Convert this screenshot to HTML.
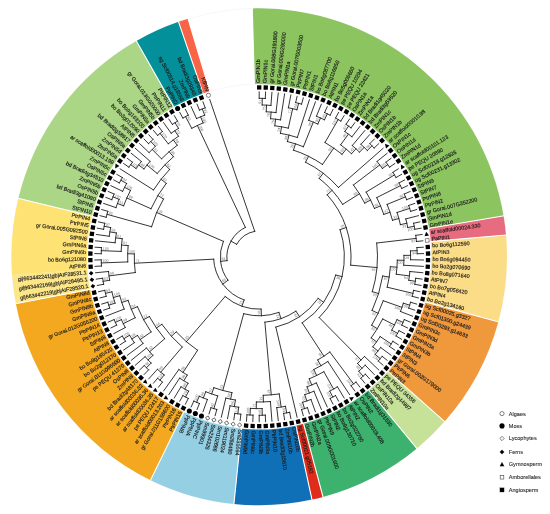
<!DOCTYPE html>
<html><head><meta charset="utf-8"><title>PIN phylogeny</title>
<style>html,body{margin:0;padding:0;background:#fff}svg{display:block}</style>
</head><body>
<svg width="550" height="514" viewBox="0 0 550 514">
<rect width="550" height="514" fill="#fff"/>
<ellipse cx="259.2" cy="256.8" rx="247.75" ry="248.5" fill="none" stroke="#f1f1f1" stroke-width="0.6"/>
<ellipse cx="259.2" cy="256.8" rx="172.28" ry="172.8" fill="none" stroke="#f1f1f1" stroke-width="0.6"/>
<g>
<path d="M254.39 84.07L252.28 8.40A247.75 248.5 0 0 1 503.58 215.91L429.13 228.37A172.28 172.8 0 0 0 254.39 84.07Z" fill="#8CC460"/>
<path d="M429.13 228.37L503.58 215.91A247.75 248.5 0 0 1 506.00 234.97L430.82 241.62A172.28 172.8 0 0 0 429.13 228.37Z" fill="#E86C80"/>
<path d="M430.82 241.62L506.00 234.97A247.75 248.5 0 0 1 498.33 321.79L425.49 301.99A172.28 172.8 0 0 0 430.82 241.62Z" fill="#FBDC87"/>
<path d="M425.49 301.99L498.33 321.79A247.75 248.5 0 0 1 444.61 421.62L388.13 371.41A172.28 172.8 0 0 0 425.49 301.99Z" fill="#F0983C"/>
<path d="M388.13 371.41L444.61 421.62A247.75 248.5 0 0 1 416.86 448.49L368.83 390.10A172.28 172.8 0 0 0 388.13 371.41Z" fill="#C6E298"/>
<path d="M368.83 390.10L416.86 448.49A247.75 248.5 0 0 1 322.99 496.92L303.56 423.77A172.28 172.8 0 0 0 368.83 390.10Z" fill="#3DB26E"/>
<path d="M303.56 423.77L322.99 496.92A247.75 248.5 0 0 1 311.98 499.60L295.90 425.63A172.28 172.8 0 0 0 303.56 423.77Z" fill="#E02D1B"/>
<path d="M295.90 425.63L311.98 499.60A247.75 248.5 0 0 1 233.90 504.00L241.61 428.70A172.28 172.8 0 0 0 295.90 425.63Z" fill="#0F70B7"/>
<path d="M241.61 428.70L233.90 504.00A247.75 248.5 0 0 1 150.59 480.15L183.68 412.11A172.28 172.8 0 0 0 241.61 428.70Z" fill="#94CFE3"/>
<path d="M183.68 412.11L150.59 480.15A247.75 248.5 0 0 1 15.90 303.71L90.02 289.42A172.28 172.8 0 0 0 183.68 412.11Z" fill="#F3A81F"/>
<path d="M90.02 289.42L15.90 303.71A247.75 248.5 0 0 1 12.11 275.00L87.38 269.46A172.28 172.8 0 0 0 90.02 289.42Z" fill="#FCE688"/>
<path d="M87.38 269.46L12.11 275.00A247.75 248.5 0 0 1 18.40 198.33L91.76 216.14A172.28 172.8 0 0 0 87.38 269.46Z" fill="#FEE274"/>
<path d="M91.76 216.14L18.40 198.33A247.75 248.5 0 0 1 136.34 41.01L173.76 106.75A172.28 172.8 0 0 0 91.76 216.14Z" fill="#ABD685"/>
<path d="M173.76 106.75L136.34 41.01A247.75 248.5 0 0 1 178.54 21.84L203.11 93.41A172.28 172.8 0 0 0 173.76 106.75Z" fill="#04909A"/>
<path d="M203.11 93.41L178.54 21.84A247.75 248.5 0 0 1 188.13 18.74L209.78 91.26A172.28 172.8 0 0 0 203.11 93.41Z" fill="#FA6446"/>
<path d="M254.40 84.57L252.27 7.90M428.64 228.45L504.07 215.83M430.32 241.66L506.49 234.93M425.00 301.86L498.81 321.92M387.76 371.08L444.99 421.96M368.51 389.71L417.18 448.88M303.43 423.29L323.12 497.41M295.80 425.14L312.09 500.08M241.66 428.20L233.85 504.50M183.90 411.66L150.37 480.60M90.50 289.32L15.41 303.80M92.24 216.26L17.92 198.21M174.01 107.18L136.09 40.58M203.27 93.89L178.38 21.37M209.92 91.74L187.99 18.26" stroke="#fff" stroke-width="1.1" fill="none"/>
</g>
<path d="M259.20 98.33A157.99 158.47 0 0 1 265.33 98.45M259.20 98.33L259.20 91.90M265.33 98.45L265.57 92.02M262.14 104.99A151.38 151.84 0 0 1 270.93 105.42M262.14 104.99L262.26 98.36M270.93 105.42L271.94 92.40M266.22 111.76A144.77 145.21 0 0 1 276.01 112.57M266.22 111.76L266.54 105.14M276.01 112.57L278.29 93.01M270.57 118.69A138.16 138.58 0 0 1 280.55 119.88M270.57 118.69L271.12 112.08M280.55 119.88L284.60 93.88M295.64 102.60A157.99 158.47 0 0 1 301.57 104.13M295.64 102.60L297.11 96.34M301.57 104.13L303.29 97.94M288.37 107.81A151.38 151.84 0 0 1 296.96 109.76M288.37 107.81L290.88 94.99M296.96 109.76L298.61 103.34M274.79 125.78A131.55 131.95 0 0 1 288.30 128.12M274.79 125.78L275.57 119.20M288.30 128.12L292.68 108.72M280.45 133.31A124.94 125.32 0 0 1 297.35 137.46M280.45 133.31L281.57 126.77M297.35 137.46L309.40 99.77M324.58 112.53A157.99 158.47 0 0 1 330.11 115.19M324.58 112.53L327.23 106.68M330.11 115.19L332.98 109.44M316.45 116.24A151.38 151.84 0 0 1 324.51 119.81M316.45 116.24L321.38 104.15M324.51 119.81L327.36 113.83M308.72 120.35A144.77 145.21 0 0 1 317.83 124.03M308.72 120.35L315.43 101.84M317.83 124.03L320.51 117.97M287.40 141.53A118.33 118.69 0 0 1 303.42 146.71M287.40 141.53L288.97 135.09M303.42 146.71L313.30 122.11M335.53 118.05A157.99 158.47 0 0 1 340.84 121.12M335.53 118.05L338.63 112.42M340.84 121.12L344.15 115.62M346.02 124.40A157.99 158.47 0 0 1 351.07 127.88M346.02 124.40L349.54 119.03M351.07 127.88L354.80 122.65M344.82 131.58A151.38 151.84 0 0 1 351.94 136.79M344.82 131.58L348.56 126.11M351.94 136.79L359.91 126.46M369.83 143.66A157.99 158.47 0 0 1 374.12 148.05M369.83 143.66L374.32 139.07M374.12 148.05L378.78 143.64M360.93 144.36A151.38 151.84 0 0 1 367.28 150.48M360.93 144.36L369.68 134.68M367.28 150.48L372.00 145.84M352.26 145.56A144.77 145.21 0 0 1 359.57 152.15M352.26 145.56L364.88 130.48M359.57 152.15L364.15 147.37M340.63 144.84A138.16 138.58 0 0 1 351.55 153.73M340.63 144.84L348.42 134.13M351.55 153.73L355.97 148.79M324.98 142.53A131.55 131.95 0 0 1 342.04 154.30M324.98 142.53L338.20 119.56M342.04 154.30L346.20 149.15M293.47 150.14A111.72 112.06 0 0 1 322.50 164.46M293.47 150.14L295.50 143.83M322.50 164.46L333.74 148.07M305.59 162.19A105.11 105.43 0 0 1 338.40 187.48M305.59 162.19L308.51 156.24M338.40 187.48L383.07 148.37M385.93 162.17A157.99 158.47 0 0 1 389.49 167.17M385.93 162.17L391.07 158.33M389.49 167.17L394.78 163.53M377.03 161.47A151.38 151.84 0 0 1 382.36 168.51M377.03 161.47L387.17 153.27M382.36 168.51L387.74 164.65M392.86 172.30A157.99 158.47 0 0 1 396.03 177.56M392.86 172.30L398.28 168.87M396.03 177.56L401.58 174.35M398.99 182.95A157.99 158.47 0 0 1 401.74 188.44M398.99 182.95L404.66 179.95M401.74 188.44L407.52 185.66M404.27 194.03A157.99 158.47 0 0 1 406.59 199.72M404.27 194.03L410.16 191.49M406.59 199.72L412.57 197.41M408.69 205.50A157.99 158.47 0 0 1 410.56 211.35M408.69 205.50L414.75 203.42M410.56 211.35L416.70 209.51M413.61 223.25A157.99 158.47 0 0 1 414.79 229.28M413.61 223.25L419.88 221.89M414.79 229.28L421.11 228.17M405.80 218.92A151.38 151.84 0 0 1 407.75 227.54M405.80 218.92L418.41 215.67M407.75 227.54L414.23 226.26M397.06 212.46A144.77 145.21 0 0 1 400.39 224.68M397.06 212.46L409.65 208.41M400.39 224.68L406.84 223.22M387.10 204.39A138.16 138.58 0 0 1 392.48 220.28M387.10 204.39L405.46 196.87M392.48 220.28L398.86 218.54M376.76 197.58A131.55 131.95 0 0 1 383.77 214.39M376.76 197.58L400.39 185.68M383.77 214.39L390.03 212.25M366.17 192.05A124.94 125.32 0 0 1 374.46 208.42M366.17 192.05L394.47 174.92M374.46 208.42L380.56 205.86M353.43 185.00A118.33 118.69 0 0 1 364.72 203.08M353.43 185.00L379.75 164.95M364.72 203.08L370.62 200.08M319.22 178.46A98.50 98.80 0 0 1 342.68 204.35M319.22 178.46L323.25 173.20M342.68 204.35L359.48 193.79M415.74 235.35A157.99 158.47 0 0 1 416.45 241.46M415.74 235.35L422.09 234.48M416.45 241.46L422.83 240.84M416.93 247.59A157.99 158.47 0 0 1 417.16 253.73M416.93 247.59L423.33 247.21M417.16 253.73L423.57 253.60M410.47 250.91A151.38 151.84 0 0 1 410.56 259.74M410.47 250.91L417.08 250.66M410.56 259.74L423.57 260.00M403.97 255.39A144.77 145.21 0 0 1 403.73 265.24M403.97 255.39L410.58 255.33M403.73 265.24L423.33 266.39M415.74 278.25A157.99 158.47 0 0 1 414.79 284.32M415.74 278.25L422.09 279.12M414.79 284.32L421.11 285.43M409.87 271.50A151.38 151.84 0 0 1 408.77 280.26M409.87 271.50L422.83 272.76M408.77 280.26L415.30 281.29M397.32 260.16A138.16 138.58 0 0 1 396.27 274.22M397.32 260.16L403.93 260.32M396.27 274.22L409.38 275.89M413.61 290.35A157.99 158.47 0 0 1 412.20 296.33M413.61 290.35L419.88 291.71M412.20 296.33L418.41 297.93M390.38 266.71A131.55 131.95 0 0 1 387.21 287.23M390.38 266.71L396.97 267.20M387.21 287.23L412.94 293.35M410.56 302.25A157.99 158.47 0 0 1 408.69 308.10M410.56 302.25L416.70 304.09M408.69 308.10L414.75 310.18M403.36 303.16A151.38 151.84 0 0 1 400.42 311.49M403.36 303.16L409.65 305.19M400.42 311.49L412.57 316.19M404.27 319.57A157.99 158.47 0 0 1 401.74 325.16M404.27 319.57L410.16 322.11M401.74 325.16L407.52 327.94M398.99 330.65A157.99 158.47 0 0 1 396.03 336.03M398.99 330.65L404.66 333.65M396.03 336.03L401.58 339.25M397.01 319.63A151.38 151.84 0 0 1 391.75 330.16M397.01 319.63L403.03 322.38M391.75 330.16L397.53 333.36M392.86 341.30A157.99 158.47 0 0 1 389.49 346.43M392.86 341.30L398.28 344.73M389.49 346.43L394.78 350.07M382.18 356.29A157.99 158.47 0 0 1 378.24 361.00M382.18 356.29L387.17 360.33M378.24 361.00L383.07 365.23M380.63 347.47A151.38 151.84 0 0 1 375.17 354.40M380.63 347.47L391.07 355.27M375.17 354.40L380.23 358.66M380.16 336.59A144.77 145.21 0 0 1 372.76 346.86M380.16 336.59L391.20 343.88M372.76 346.86L377.95 350.98M382.67 318.99A138.16 138.58 0 0 1 371.21 337.93M382.67 318.99L394.48 324.95M371.21 337.93L376.57 341.81M383.25 300.73A131.55 131.95 0 0 1 371.67 325.25M383.25 300.73L401.95 307.35M371.67 325.25L377.32 328.69M382.67 276.01A124.94 125.32 0 0 1 372.12 310.45M382.67 276.01L389.20 277.03M372.12 310.45L378.09 313.29M376.73 243.02A118.33 118.69 0 0 1 372.31 291.67M376.73 243.02L416.13 238.40M372.31 291.67L378.63 293.61M327.21 194.81A91.89 92.17 0 0 1 350.71 265.17M327.21 194.81L332.10 190.35M350.71 265.17L377.05 267.57M365.37 374.15A157.99 158.47 0 0 1 360.76 378.20M365.37 374.15L369.68 378.92M360.76 378.20L364.88 383.12M365.20 365.20A151.38 151.84 0 0 1 358.74 371.20M365.20 365.20L374.32 374.53M358.74 371.20L363.08 376.20M364.51 356.45A144.77 145.21 0 0 1 357.52 363.38M364.51 356.45L378.78 369.96M357.52 363.38L362.01 368.25M340.06 229.62A85.28 85.54 0 0 1 319.21 317.58M340.06 229.62L346.33 227.51M319.21 317.58L361.07 359.98M355.99 382.05A157.99 158.47 0 0 1 351.07 385.72M355.99 382.05L359.91 387.14M351.07 385.72L354.80 390.95M335.53 395.55A157.99 158.47 0 0 1 330.11 398.41M335.53 395.55L338.63 401.18M330.11 398.41L332.98 404.16M337.42 386.80A151.38 151.84 0 0 1 329.75 391.14M337.42 386.80L344.15 397.98M329.75 391.14L332.83 397.01M307.44 407.70A157.99 158.47 0 0 1 301.57 409.47M307.44 407.70L309.40 413.83M301.57 409.47L303.29 415.66M310.98 399.48A151.38 151.84 0 0 1 302.62 402.26M310.98 399.48L315.43 411.76M302.62 402.26L304.51 408.61M313.95 391.22A144.77 145.21 0 0 1 304.74 394.64M313.95 391.22L321.38 409.45M304.74 394.64L306.82 400.93M316.37 382.96A138.16 138.58 0 0 1 307.08 386.79M316.37 382.96L327.23 406.92M307.08 386.79L309.37 393.01M323.87 371.71A131.55 131.95 0 0 1 309.25 378.83M323.87 371.71L333.62 389.03M309.25 378.83L311.76 384.96M327.86 361.50A124.94 125.32 0 0 1 313.78 369.53M327.86 361.50L349.54 394.57M313.78 369.53L316.67 375.49M329.86 352.00A118.33 118.69 0 0 1 317.68 359.98M329.86 352.00L353.55 383.91M317.68 359.98L320.95 365.75M335.74 275.05A78.67 78.91 0 0 1 302.21 322.87M335.74 275.05L342.17 276.59M302.21 322.87L323.90 356.18M318.15 298.38A72.06 72.28 0 0 1 275.82 327.13M318.15 298.38L323.55 302.19M275.82 327.13L297.11 417.26M289.65 412.30A157.99 158.47 0 0 1 283.61 413.37M289.65 412.30L290.88 418.61M283.61 413.37L284.60 419.72M285.49 406.33A151.38 151.84 0 0 1 276.77 407.61M285.49 406.33L286.64 412.86M276.77 407.61L278.29 420.59M265.33 415.15A157.99 158.47 0 0 1 259.20 415.27M265.33 415.15L265.57 421.58M259.20 415.27L259.20 421.70M253.07 415.15A157.99 158.47 0 0 1 246.96 414.79M253.07 415.15L252.83 421.58M246.96 414.79L246.46 421.20M262.14 408.61A151.38 151.84 0 0 1 250.40 408.38M262.14 408.61L262.26 415.24M250.40 408.38L250.01 415.00M270.42 401.57A144.77 145.21 0 0 1 256.39 401.98M270.42 401.57L271.94 421.20M256.39 401.98L256.26 408.61M279.22 393.92A138.16 138.58 0 0 1 263.22 395.32M279.22 393.92L281.14 407.04M263.22 395.32L263.41 401.95M295.90 311.16A65.45 65.65 0 0 1 264.90 322.20M295.90 311.16L299.61 316.65M264.90 322.20L271.24 394.85M240.86 414.20A157.99 158.47 0 0 1 234.79 413.37M240.86 414.20L240.11 420.59M234.79 413.37L233.80 419.72M238.71 407.24A151.38 151.84 0 0 1 230.03 405.79M238.71 407.24L237.82 413.81M230.03 405.79L227.52 418.61M235.44 400.04A144.77 145.21 0 0 1 225.81 398.10M235.44 400.04L234.36 406.58M225.81 398.10L221.29 417.26M216.83 409.47A157.99 158.47 0 0 1 210.96 407.70M216.83 409.47L215.11 415.66M210.96 407.70L209.00 413.83M199.45 403.50A157.99 158.47 0 0 1 193.82 401.07M199.45 403.50L197.02 409.45M193.82 401.07L191.17 406.92M207.42 399.48A151.38 151.84 0 0 1 199.24 396.22M207.42 399.48L202.97 411.76M199.24 396.22L196.62 402.31M217.68 395.91A144.77 145.21 0 0 1 205.75 391.75M217.68 395.91L213.89 408.61M205.75 391.75L203.31 397.91M231.92 392.65A138.16 138.58 0 0 1 213.84 387.70M231.92 392.65L230.61 399.15M213.84 387.70L211.67 393.96M278.89 312.42A58.84 59.02 0 0 1 243.69 313.73M278.89 312.42L281.11 318.66M243.69 313.73L222.79 390.48M188.29 398.41A157.99 158.47 0 0 1 182.87 395.55M188.29 398.41L185.42 404.16M182.87 395.55L179.77 401.18M188.65 391.14A151.38 151.84 0 0 1 180.98 386.80M188.65 391.14L185.57 397.01M180.98 386.80L174.25 397.98M188.03 383.25A144.77 145.21 0 0 1 179.65 378.12M188.03 383.25L184.78 389.03M179.65 378.12L168.86 394.57M187.24 375.10A138.16 138.58 0 0 1 178.86 369.54M187.24 375.10L183.80 380.76M178.86 369.54L163.60 390.95M162.41 382.05A157.99 158.47 0 0 1 157.64 378.20M162.41 382.05L158.49 387.14M157.64 378.20L153.52 383.12M164.16 374.99A151.38 151.84 0 0 1 157.47 369.24M164.16 374.99L160.01 380.15M157.47 369.24L148.72 378.92M148.57 369.94A157.99 158.47 0 0 1 144.28 365.55M148.57 369.94L144.08 374.53M144.28 365.55L139.62 369.96M151.12 363.12A151.38 151.84 0 0 1 145.14 356.64M151.12 363.12L146.40 367.76M145.14 356.64L135.33 365.23M152.94 355.42A144.77 145.21 0 0 1 146.51 347.96M152.94 355.42L148.08 359.92M146.51 347.96L131.23 360.33M125.54 341.30A157.99 158.47 0 0 1 122.37 336.04M125.54 341.30L120.12 344.73M122.37 336.04L116.82 339.25M134.36 342.68A151.38 151.84 0 0 1 129.59 335.26M134.36 342.68L123.62 350.07M129.59 335.26L123.93 338.68M143.07 343.51A144.77 145.21 0 0 1 137.48 335.41M143.07 343.51L127.33 355.27M137.48 335.41L131.92 339.00M116.66 325.16A157.99 158.47 0 0 1 114.13 319.57M116.66 325.16L110.88 327.94M114.13 319.57L108.24 322.11M125.26 327.56A151.38 151.84 0 0 1 121.39 319.63M125.26 327.56L113.74 333.65M121.39 319.63L115.37 322.38M109.71 308.10A157.99 158.47 0 0 1 107.84 302.25M109.71 308.10L103.65 310.18M107.84 302.25L101.70 304.09M106.20 296.33A157.99 158.47 0 0 1 104.79 290.35M106.20 296.33L99.99 297.93M104.79 290.35L98.52 291.71M115.04 303.16A151.38 151.84 0 0 1 111.90 291.82M115.04 303.16L108.75 305.19M111.90 291.82L105.46 293.35M124.14 309.10A144.77 145.21 0 0 1 119.73 295.74M124.14 309.10L105.83 316.19M119.73 295.74L113.36 297.52M135.14 317.79A138.16 138.58 0 0 1 128.05 300.39M135.14 317.79L123.27 323.63M128.05 300.39L121.77 302.48M151.07 331.96A131.55 131.95 0 0 1 137.42 306.70M151.07 331.96L140.21 339.51M137.42 306.70L131.30 309.21M164.67 338.74A124.94 125.32 0 0 1 149.37 316.54M164.67 338.74L149.66 351.75M149.37 316.54L143.56 319.70M182.26 346.98A118.33 118.69 0 0 1 161.86 324.29M182.26 346.98L160.77 372.16M161.86 324.29L156.42 328.06M197.58 350.28A111.72 112.06 0 0 1 176.24 331.85M197.58 350.28L183.00 372.40M176.24 331.85L171.33 336.29M261.15 309.15A52.23 52.39 0 0 1 225.13 296.51M261.15 309.15L261.40 315.78M225.13 296.51L186.33 341.74M103.61 284.32A157.99 158.47 0 0 1 102.66 278.25M103.61 284.32L97.29 285.43M102.66 278.25L96.31 279.12M109.63 280.26A151.38 151.84 0 0 1 108.53 271.50M109.63 280.26L103.10 281.29M108.53 271.50L95.57 272.76M101.47 266.01A157.99 158.47 0 0 1 101.24 259.87M101.47 266.01L95.07 266.39M101.24 259.87L94.83 260.00M101.24 253.73A157.99 158.47 0 0 1 101.47 247.59M101.24 253.73L94.83 253.60M101.47 247.59L95.07 247.21M103.61 229.28A157.99 158.47 0 0 1 104.79 223.25M103.61 229.28L97.29 228.17M104.79 223.25L98.52 221.89M109.21 236.25A151.38 151.84 0 0 1 110.65 227.54M109.21 236.25L96.31 234.48M110.65 227.54L104.17 226.26M115.11 242.74A144.77 145.21 0 0 1 116.39 232.97M115.11 242.74L95.57 240.84M116.39 232.97L109.87 231.88M121.14 251.43A138.16 138.58 0 0 1 122.22 238.71M121.14 251.43L101.32 250.66M122.22 238.71L115.66 237.85M127.74 261.92A131.55 131.95 0 0 1 128.12 245.62M127.74 261.92L101.32 262.94M128.12 245.62L121.53 245.06M135.25 272.55A124.94 125.32 0 0 1 134.29 253.91M135.25 272.55L109.02 275.89M134.29 253.91L127.68 253.76M244.13 299.99A45.62 45.76 0 0 1 213.64 259.16M244.13 299.99L241.95 306.25M213.64 259.16L134.42 263.25M106.20 217.27A157.99 158.47 0 0 1 107.84 211.35M106.20 217.27L99.99 215.67M107.84 211.35L101.70 209.51M111.81 199.72A157.99 158.47 0 0 1 114.13 194.03M111.81 199.72L105.83 197.41M114.13 194.03L108.24 191.49M115.97 207.64A151.38 151.84 0 0 1 119.06 199.37M115.97 207.64L103.65 203.42M119.06 199.37L112.94 196.87M119.41 182.95A157.99 158.47 0 0 1 122.37 177.56M119.41 182.95L113.74 179.95M122.37 177.56L116.82 174.35M122.63 191.30A151.38 151.84 0 0 1 126.65 183.44M122.63 191.30L110.88 185.66M126.65 183.44L120.87 180.24M123.64 205.81A144.77 145.21 0 0 1 130.46 190.37M123.64 205.81L117.45 203.49M130.46 190.37L124.58 187.34M128.91 167.17A157.99 158.47 0 0 1 132.47 162.17M128.91 167.17L123.62 163.53M132.47 162.17L127.33 158.33M136.04 168.51A151.38 151.84 0 0 1 141.37 161.47M136.04 168.51L130.66 164.65M141.37 161.47L131.23 153.27M143.92 168.96A144.77 145.21 0 0 1 150.12 161.32M143.92 168.96L138.65 164.95M150.12 161.32L135.33 148.37M148.57 143.66A157.99 158.47 0 0 1 153.03 139.45M148.57 143.66L144.08 139.07M153.03 139.45L148.72 134.68M149.09 152.60A151.38 151.84 0 0 1 155.31 146.36M149.09 152.60L139.62 143.64M155.31 146.36L150.78 141.53M157.64 135.40A157.99 158.47 0 0 1 162.41 131.55M157.64 135.40L153.52 130.48M162.41 131.55L158.49 126.46M172.38 124.40A157.99 158.47 0 0 1 177.56 121.12M172.38 124.40L168.86 119.03M177.56 121.12L174.25 115.62M171.17 133.27A151.38 151.84 0 0 1 178.48 128.35M171.17 133.27L163.60 122.65M178.48 128.35L174.96 122.74M168.31 143.77A144.77 145.21 0 0 1 178.48 136.26M168.31 143.77L160.01 133.45M178.48 136.26L174.79 130.75M161.50 158.81A138.16 138.58 0 0 1 177.23 145.24M161.50 158.81L152.16 149.43M177.23 145.24L173.31 139.90M157.20 173.46A131.55 131.95 0 0 1 173.42 156.76M157.20 173.46L146.95 165.09M173.42 156.76L169.11 151.73M153.50 189.98A124.94 125.32 0 0 1 169.68 169.37M153.50 189.98L120.12 168.87M169.68 169.37L164.95 164.75M151.00 208.73A118.33 118.69 0 0 1 166.24 183.35M151.00 208.73L126.83 198.00M166.24 183.35L161.05 179.25M151.57 226.75A111.72 112.06 0 0 1 163.49 198.99M151.57 226.75L106.99 214.30M163.49 198.99L157.83 195.57M227.97 280.26A39.01 39.13 0 0 1 223.37 241.32M227.97 280.26L222.68 284.23M223.37 241.32L156.59 212.46M182.87 118.05A157.99 158.47 0 0 1 188.29 115.19M182.87 118.05L179.77 112.42M188.29 115.19L185.42 109.44M199.45 110.10A157.99 158.47 0 0 1 205.16 107.89M199.45 110.10L197.02 104.15M205.16 107.89L202.97 101.84M196.56 118.57A151.38 151.84 0 0 1 204.67 115.15M196.56 118.57L191.17 106.68M204.67 115.15L202.29 108.97M191.73 128.32A144.77 145.21 0 0 1 203.15 122.91M191.73 128.32L185.57 116.59M203.15 122.91L200.59 116.80M227.02 260.63A32.40 32.50 0 0 1 245.36 227.41M227.02 260.63L220.46 261.41M245.36 227.41L197.38 125.49M236.64 244.27A25.79 25.87 0 0 1 254.72 231.32M236.64 244.27L230.85 241.05M254.72 231.32L209.76 99.53" fill="none" stroke="#111" stroke-width="0.85" stroke-linecap="square"/>
<g font-family="'Liberation Sans',Arial,sans-serif" font-size="3.6" fill="#6e6e6e">
<text x="259.94" y="99.61" transform="rotate(-88.89 259.94 99.61)" text-anchor="end" dy="0.35em">91</text>
<text x="264.18" y="106.33" transform="rotate(-87.22 264.18 106.33)" text-anchor="end" dy="0.35em">75</text>
<text x="268.72" y="113.19" transform="rotate(-85.28 268.72 113.19)" text-anchor="end" dy="0.35em">75</text>
<text x="273.13" y="120.21" transform="rotate(-83.19 273.13 120.21)" text-anchor="end" dy="0.35em">75</text>
<text x="296.06" y="104.02" transform="rotate(-75.56 296.06 104.02)" text-anchor="end" dy="0.35em">100</text>
<text x="290.15" y="109.48" transform="rotate(-77.22 290.15 109.48)" text-anchor="end" dy="0.35em">77</text>
<text x="279.09" y="127.66" transform="rotate(-80.21 279.09 127.66)" text-anchor="end" dy="0.35em">54</text>
<text x="286.43" y="135.80" transform="rotate(-76.22 286.43 135.80)" text-anchor="end" dy="0.35em">88</text>
<text x="324.72" y="114.01" transform="rotate(-64.44 324.72 114.01)" text-anchor="end" dy="0.35em">85</text>
<text x="317.88" y="118.22" transform="rotate(-66.11 317.88 118.22)" text-anchor="end" dy="0.35em">92</text>
<text x="310.68" y="122.46" transform="rotate(-68.06 310.68 122.46)" text-anchor="end" dy="0.35em">98</text>
<text x="292.91" y="144.36" transform="rotate(-72.14 292.91 144.36)" text-anchor="end" dy="0.35em">78</text>
<text x="335.56" y="119.54" transform="rotate(-60.00 335.56 119.54)" text-anchor="end" dy="0.35em">100</text>
<text x="345.93" y="125.88" transform="rotate(-55.56 345.93 125.88)" text-anchor="end" dy="0.35em">87</text>
<text x="345.79" y="133.83" transform="rotate(-53.89 345.79 133.83)" text-anchor="end" dy="0.35em">90</text>
<text x="369.46" y="145.10" transform="rotate(-44.44 369.46 145.10)" text-anchor="end" dy="0.35em">98</text>
<text x="361.59" y="146.71" transform="rotate(-46.11 361.59 146.71)" text-anchor="end" dy="0.35em">99</text>
<text x="353.39" y="148.22" transform="rotate(-48.06 353.39 148.22)" text-anchor="end" dy="0.35em">43</text>
<text x="343.60" y="148.71" transform="rotate(-50.97 343.60 148.71)" text-anchor="end" dy="0.35em">100</text>
<text x="331.11" y="147.84" transform="rotate(-55.49 331.11 147.84)" text-anchor="end" dy="0.35em">93</text>
<text x="305.87" y="156.40" transform="rotate(-63.81 305.87 156.40)" text-anchor="end" dy="0.35em">15</text>
<text x="320.63" y="172.83" transform="rotate(-52.46 320.63 172.83)" text-anchor="end" dy="0.35em">57</text>
<text x="385.34" y="163.54" transform="rotate(-35.56 385.34 163.54)" text-anchor="end" dy="0.35em">100</text>
<text x="377.32" y="163.91" transform="rotate(-37.22 377.32 163.91)" text-anchor="end" dy="0.35em">100</text>
<text x="392.17" y="173.62" transform="rotate(-31.11 392.17 173.62)" text-anchor="end" dy="0.35em">63</text>
<text x="398.20" y="184.21" transform="rotate(-26.67 398.20 184.21)" text-anchor="end" dy="0.35em">99</text>
<text x="403.39" y="195.23" transform="rotate(-22.22 403.39 195.23)" text-anchor="end" dy="0.35em">92</text>
<text x="407.71" y="206.62" transform="rotate(-17.78 407.71 206.62)" text-anchor="end" dy="0.35em">100</text>
<text x="413.40" y="228.77" transform="rotate(-11.11 413.40 228.77)" text-anchor="end" dy="0.35em">100</text>
<text x="406.08" y="225.75" transform="rotate(-12.78 406.08 225.75)" text-anchor="end" dy="0.35em">33</text>
<text x="397.00" y="216.66" transform="rotate(-15.28 397.00 216.66)" text-anchor="end" dy="0.35em">32</text>
<text x="388.06" y="210.49" transform="rotate(-18.75 388.06 210.49)" text-anchor="end" dy="0.35em">47</text>
<text x="378.47" y="204.24" transform="rotate(-22.71 378.47 204.24)" text-anchor="end" dy="0.35em">91</text>
<text x="368.42" y="198.62" transform="rotate(-26.91 368.42 198.62)" text-anchor="end" dy="0.35em">99</text>
<text x="357.16" y="192.53" transform="rotate(-32.07 357.16 192.53)" text-anchor="end" dy="0.35em">69</text>
<text x="329.59" y="189.53" transform="rotate(-42.26 329.59 189.53)" text-anchor="end" dy="0.35em">73</text>
<text x="415.10" y="240.84" transform="rotate(-6.67 415.10 240.84)" text-anchor="end" dy="0.35em">92</text>
<text x="415.87" y="253.00" transform="rotate(-2.22 415.87 253.00)" text-anchor="end" dy="0.35em">34</text>
<text x="409.30" y="257.64" transform="rotate(-0.56 409.30 257.64)" text-anchor="end" dy="0.35em">29</text>
<text x="402.58" y="262.59" transform="rotate(1.39 402.58 262.59)" text-anchor="end" dy="0.35em">100</text>
<text x="413.66" y="283.36" transform="rotate(8.89 413.66 283.36)" text-anchor="end" dy="0.35em">99</text>
<text x="407.80" y="278.01" transform="rotate(7.22 407.80 278.01)" text-anchor="end" dy="0.35em">94</text>
<text x="395.51" y="269.40" transform="rotate(4.31 395.51 269.40)" text-anchor="end" dy="0.35em">100</text>
<text x="411.14" y="295.28" transform="rotate(13.33 411.14 295.28)" text-anchor="end" dy="0.35em">100</text>
<text x="387.56" y="279.10" transform="rotate(8.82 387.56 279.10)" text-anchor="end" dy="0.35em">97</text>
<text x="407.71" y="306.98" transform="rotate(17.78 407.71 306.98)" text-anchor="end" dy="0.35em">100</text>
<text x="399.96" y="309.08" transform="rotate(19.44 399.96 309.08)" text-anchor="end" dy="0.35em">100</text>
<text x="400.90" y="323.93" transform="rotate(24.44 400.90 323.93)" text-anchor="end" dy="0.35em">100</text>
<text x="395.28" y="334.74" transform="rotate(28.89 395.28 334.74)" text-anchor="end" dy="0.35em">100</text>
<text x="392.29" y="326.42" transform="rotate(26.67 392.29 326.42)" text-anchor="end" dy="0.35em">46</text>
<text x="388.85" y="345.09" transform="rotate(33.33 388.85 345.09)" text-anchor="end" dy="0.35em">100</text>
<text x="377.76" y="359.59" transform="rotate(40.00 377.76 359.59)" text-anchor="end" dy="0.35em">100</text>
<text x="375.50" y="351.97" transform="rotate(38.33 375.50 351.97)" text-anchor="end" dy="0.35em">99</text>
<text x="374.17" y="342.91" transform="rotate(35.83 374.17 342.91)" text-anchor="end" dy="0.35em">72</text>
<text x="375.01" y="329.98" transform="rotate(31.25 375.01 329.98)" text-anchor="end" dy="0.35em">82</text>
<text x="375.93" y="314.81" transform="rotate(25.35 375.93 314.81)" text-anchor="end" dy="0.35em">82</text>
<text x="376.71" y="295.43" transform="rotate(17.08 376.71 295.43)" text-anchor="end" dy="0.35em">99</text>
<text x="375.54" y="269.75" transform="rotate(5.21 375.54 269.75)" text-anchor="end" dy="0.35em">94</text>
<text x="344.37" y="225.74" transform="rotate(-18.53 344.37 225.74)" text-anchor="end" dy="0.35em">38</text>
<text x="360.50" y="376.73" transform="rotate(48.89 360.50 376.73)" text-anchor="end" dy="0.35em">63</text>
<text x="359.44" y="368.86" transform="rotate(47.22 359.44 368.86)" text-anchor="end" dy="0.35em">88</text>
<text x="358.52" y="360.67" transform="rotate(45.28 358.52 360.67)" text-anchor="end" dy="0.35em">87</text>
<text x="340.37" y="278.52" transform="rotate(13.38 340.37 278.52)" text-anchor="end" dy="0.35em">86</text>
<text x="350.93" y="384.24" transform="rotate(53.33 350.93 384.24)" text-anchor="end" dy="0.35em">100</text>
<text x="330.19" y="396.93" transform="rotate(62.22 330.19 396.93)" text-anchor="end" dy="0.35em">100</text>
<text x="330.98" y="389.03" transform="rotate(60.56 330.98 389.03)" text-anchor="end" dy="0.35em">100</text>
<text x="301.94" y="408.03" transform="rotate(73.33 301.94 408.03)" text-anchor="end" dy="0.35em">100</text>
<text x="304.23" y="400.42" transform="rotate(71.67 304.23 400.42)" text-anchor="end" dy="0.35em">53</text>
<text x="306.77" y="392.59" transform="rotate(69.72 306.77 392.59)" text-anchor="end" dy="0.35em">85</text>
<text x="309.14" y="384.63" transform="rotate(67.64 309.14 384.63)" text-anchor="end" dy="0.35em">88</text>
<text x="314.03" y="375.33" transform="rotate(64.10 314.03 375.33)" text-anchor="end" dy="0.35em">100</text>
<text x="318.31" y="365.75" transform="rotate(60.38 318.31 365.75)" text-anchor="end" dy="0.35em">86</text>
<text x="321.26" y="356.35" transform="rotate(56.86 321.26 356.35)" text-anchor="end" dy="0.35em">99</text>
<text x="321.17" y="303.33" transform="rotate(35.12 321.17 303.33)" text-anchor="end" dy="0.35em">31</text>
<text x="296.98" y="316.86" transform="rotate(55.89 296.98 316.86)" text-anchor="end" dy="0.35em">44</text>
<text x="284.14" y="411.98" transform="rotate(80.00 284.14 411.98)" text-anchor="end" dy="0.35em">94</text>
<text x="278.68" y="406.08" transform="rotate(81.67 278.68 406.08)" text-anchor="end" dy="0.35em">100</text>
<text x="259.94" y="413.99" transform="rotate(88.89 259.94 413.99)" text-anchor="end" dy="0.35em">86</text>
<text x="247.79" y="413.57" transform="rotate(273.33 247.79 413.57)" text-anchor="start" dy="0.35em">100</text>
<text x="253.99" y="407.27" transform="rotate(271.11 253.99 407.27)" text-anchor="start" dy="0.35em">21</text>
<text x="261.07" y="400.72" transform="rotate(88.33 261.07 400.72)" text-anchor="end" dy="0.35em">51</text>
<text x="268.84" y="393.76" transform="rotate(85.00 268.84 393.76)" text-anchor="end" dy="0.35em">67</text>
<text x="278.50" y="318.21" transform="rotate(70.45 278.50 318.21)" text-anchor="end" dy="0.35em">22</text>
<text x="235.72" y="412.21" transform="rotate(277.78 235.72 412.21)" text-anchor="start" dy="0.35em">100</text>
<text x="232.30" y="404.92" transform="rotate(279.44 232.30 404.92)" text-anchor="start" dy="0.35em">96</text>
<text x="228.61" y="397.42" transform="rotate(281.39 228.61 397.42)" text-anchor="start" dy="0.35em">58</text>
<text x="212.06" y="406.71" transform="rotate(286.67 212.06 406.71)" text-anchor="start" dy="0.35em">82</text>
<text x="195.02" y="400.21" transform="rotate(293.33 195.02 400.21)" text-anchor="start" dy="0.35em">100</text>
<text x="201.65" y="395.85" transform="rotate(291.67 201.65 395.85)" text-anchor="start" dy="0.35em">99</text>
<text x="209.92" y="391.98" transform="rotate(289.17 209.92 391.98)" text-anchor="start" dy="0.35em">67</text>
<text x="220.92" y="388.62" transform="rotate(285.28 220.92 388.62)" text-anchor="start" dy="0.35em">23</text>
<text x="259.05" y="314.57" transform="rotate(87.86 259.05 314.57)" text-anchor="end" dy="0.35em">36</text>
<text x="184.14" y="394.79" transform="rotate(297.78 184.14 394.79)" text-anchor="start" dy="0.35em">100</text>
<text x="183.42" y="386.76" transform="rotate(299.44 183.42 386.76)" text-anchor="start" dy="0.35em">99</text>
<text x="182.51" y="378.45" transform="rotate(301.39 182.51 378.45)" text-anchor="start" dy="0.35em">99</text>
<text x="181.80" y="370.04" transform="rotate(303.47 181.80 370.04)" text-anchor="start" dy="0.35em">96</text>
<text x="159.03" y="377.69" transform="rotate(308.89 159.03 377.69)" text-anchor="start" dy="0.35em">100</text>
<text x="159.87" y="369.68" transform="rotate(310.56 159.87 369.68)" text-anchor="start" dy="0.35em">99</text>
<text x="145.72" y="365.21" transform="rotate(315.56 145.72 365.21)" text-anchor="start" dy="0.35em">98</text>
<text x="147.48" y="357.35" transform="rotate(317.22 147.48 357.35)" text-anchor="start" dy="0.35em">100</text>
<text x="149.14" y="349.16" transform="rotate(319.17 149.14 349.16)" text-anchor="start" dy="0.35em">12</text>
<text x="123.85" y="336.04" transform="rotate(328.89 123.85 336.04)" text-anchor="start" dy="0.35em">100</text>
<text x="131.77" y="336.37" transform="rotate(327.22 131.77 336.37)" text-anchor="start" dy="0.35em">99</text>
<text x="139.97" y="336.88" transform="rotate(325.28 139.97 336.88)" text-anchor="start" dy="0.35em">43</text>
<text x="115.60" y="319.74" transform="rotate(335.56 115.60 319.74)" text-anchor="start" dy="0.35em">100</text>
<text x="123.42" y="320.99" transform="rotate(333.89 123.42 320.99)" text-anchor="start" dy="0.35em">99</text>
<text x="109.29" y="302.60" transform="rotate(342.22 109.29 302.60)" text-anchor="start" dy="0.35em">100</text>
<text x="106.20" y="290.81" transform="rotate(346.67 106.20 290.81)" text-anchor="start" dy="0.35em">63</text>
<text x="114.00" y="294.95" transform="rotate(344.44 114.00 294.95)" text-anchor="start" dy="0.35em">100</text>
<text x="122.28" y="299.88" transform="rotate(341.67 122.28 299.88)" text-anchor="start" dy="0.35em">62</text>
<text x="131.63" y="306.59" transform="rotate(337.78 131.63 306.59)" text-anchor="start" dy="0.35em">64</text>
<text x="143.60" y="317.06" transform="rotate(331.53 143.60 317.06)" text-anchor="start" dy="0.35em">22</text>
<text x="156.18" y="325.43" transform="rotate(325.35 156.18 325.43)" text-anchor="start" dy="0.35em">44</text>
<text x="170.75" y="333.72" transform="rotate(317.95 170.75 333.72)" text-anchor="start" dy="0.35em">29</text>
<text x="185.43" y="339.26" transform="rotate(310.71 185.43 339.26)" text-anchor="start" dy="0.35em">33</text>
<text x="240.21" y="304.26" transform="rotate(289.29 240.21 304.26)" text-anchor="start" dy="0.35em">21</text>
<text x="104.03" y="278.81" transform="rotate(351.11 104.03 278.81)" text-anchor="start" dy="0.35em">63</text>
<text x="110.02" y="273.44" transform="rotate(352.78 110.02 273.44)" text-anchor="start" dy="0.35em">56</text>
<text x="102.53" y="260.60" transform="rotate(357.78 102.53 260.60)" text-anchor="start" dy="0.35em">100</text>
<text x="102.71" y="248.41" transform="rotate(362.22 102.71 248.41)" text-anchor="start" dy="0.35em">100</text>
<text x="105.89" y="224.25" transform="rotate(371.11 105.89 224.25)" text-anchor="start" dy="0.35em">97</text>
<text x="111.53" y="229.83" transform="rotate(369.44 111.53 229.83)" text-anchor="start" dy="0.35em">99</text>
<text x="117.25" y="235.74" transform="rotate(367.50 117.25 235.74)" text-anchor="start" dy="0.35em">61</text>
<text x="123.02" y="242.88" transform="rotate(364.86 123.02 242.88)" text-anchor="start" dy="0.35em">51</text>
<text x="129.03" y="251.49" transform="rotate(361.32 129.03 251.49)" text-anchor="start" dy="0.35em">100</text>
<text x="135.60" y="260.89" transform="rotate(357.05 135.60 260.89)" text-anchor="start" dy="0.35em">71</text>
<text x="222.35" y="281.61" transform="rotate(323.17 222.35 281.61)" text-anchor="start" dy="0.35em">55</text>
<text x="108.86" y="212.44" transform="rotate(375.56 108.86 212.44)" text-anchor="start" dy="0.35em">95</text>
<text x="115.01" y="195.23" transform="rotate(382.22 115.01 195.23)" text-anchor="start" dy="0.35em">100</text>
<text x="119.48" y="201.79" transform="rotate(380.56 119.48 201.79)" text-anchor="start" dy="0.35em">51</text>
<text x="123.12" y="178.86" transform="rotate(388.89 123.12 178.86)" text-anchor="start" dy="0.35em">97</text>
<text x="126.79" y="185.89" transform="rotate(387.22 126.79 185.89)" text-anchor="start" dy="0.35em">100</text>
<text x="128.95" y="196.42" transform="rotate(383.89 128.95 196.42)" text-anchor="start" dy="0.35em">99</text>
<text x="133.06" y="163.54" transform="rotate(395.56 133.06 163.54)" text-anchor="start" dy="0.35em">100</text>
<text x="141.08" y="163.91" transform="rotate(397.22 141.08 163.91)" text-anchor="start" dy="0.35em">88</text>
<text x="149.42" y="164.13" transform="rotate(399.17 149.42 164.13)" text-anchor="start" dy="0.35em">100</text>
<text x="153.34" y="140.90" transform="rotate(406.67 153.34 140.90)" text-anchor="start" dy="0.35em">100</text>
<text x="154.70" y="148.73" transform="rotate(405.00 154.70 148.73)" text-anchor="start" dy="0.35em">81</text>
<text x="162.62" y="133.02" transform="rotate(411.11 162.62 133.02)" text-anchor="start" dy="0.35em">100</text>
<text x="177.60" y="122.61" transform="rotate(417.78 177.60 122.61)" text-anchor="start" dy="0.35em">99</text>
<text x="177.42" y="130.55" transform="rotate(416.11 177.42 130.55)" text-anchor="start" dy="0.35em">52</text>
<text x="175.93" y="139.59" transform="rotate(413.61 175.93 139.59)" text-anchor="start" dy="0.35em">99</text>
<text x="171.70" y="151.21" transform="rotate(409.31 171.70 151.21)" text-anchor="start" dy="0.35em">98</text>
<text x="167.48" y="164.01" transform="rotate(404.24 167.48 164.01)" text-anchor="start" dy="0.35em">82</text>
<text x="163.50" y="178.25" transform="rotate(398.23 163.50 178.25)" text-anchor="start" dy="0.35em">82</text>
<text x="160.13" y="194.27" transform="rotate(391.06 160.13 194.27)" text-anchor="start" dy="0.35em">72</text>
<text x="158.70" y="210.86" transform="rotate(383.31 158.70 210.86)" text-anchor="start" dy="0.35em">39</text>
<text x="221.48" y="258.97" transform="rotate(353.24 221.48 258.97)" text-anchor="start" dy="0.35em">38</text>
<text x="188.21" y="116.67" transform="rotate(422.22 188.21 116.67)" text-anchor="start" dy="0.35em">93</text>
<text x="204.91" y="109.35" transform="rotate(428.89 204.91 109.35)" text-anchor="start" dy="0.35em">92</text>
<text x="203.21" y="117.11" transform="rotate(427.22 203.21 117.11)" text-anchor="start" dy="0.35em">100</text>
<text x="200.02" y="125.69" transform="rotate(424.72 200.02 125.69)" text-anchor="start" dy="0.35em">100</text>
</g>
<g><rect x="257.05" y="85.30" width="4.3" height="4.3" fill="#000" transform="rotate(0.00 259.20 87.45)"/><rect x="263.60" y="85.43" width="4.3" height="4.3" fill="#000" transform="rotate(2.22 265.75 87.58)"/><rect x="270.13" y="85.81" width="4.3" height="4.3" fill="#000" transform="rotate(4.44 272.28 87.96)"/><rect x="276.65" y="86.45" width="4.3" height="4.3" fill="#000" transform="rotate(6.67 278.80 88.60)"/><rect x="283.14" y="87.33" width="4.3" height="4.3" fill="#000" transform="rotate(8.89 285.29 89.48)"/><rect x="289.59" y="88.47" width="4.3" height="4.3" fill="#000" transform="rotate(11.11 291.74 90.62)"/><rect x="295.99" y="89.86" width="4.3" height="4.3" fill="#000" transform="rotate(13.33 298.14 92.01)"/><rect x="302.33" y="91.50" width="4.3" height="4.3" fill="#000" transform="rotate(15.56 304.48 93.65)"/><rect x="308.60" y="93.39" width="4.3" height="4.3" fill="#000" transform="rotate(17.78 310.75 95.54)"/><rect x="314.80" y="95.51" width="4.3" height="4.3" fill="#000" transform="rotate(20.00 316.95 97.66)"/><rect x="320.91" y="97.88" width="4.3" height="4.3" fill="#000" transform="rotate(22.22 323.06 100.03)"/><rect x="326.92" y="100.48" width="4.3" height="4.3" fill="#000" transform="rotate(24.44 329.07 102.63)"/><rect x="332.83" y="103.31" width="4.3" height="4.3" fill="#000" transform="rotate(26.67 334.98 105.46)"/><rect x="338.62" y="106.37" width="4.3" height="4.3" fill="#000" transform="rotate(28.89 340.77 108.52)"/><rect x="344.29" y="109.66" width="4.3" height="4.3" fill="#000" transform="rotate(31.11 346.44 111.81)"/><rect x="349.83" y="113.16" width="4.3" height="4.3" fill="#000" transform="rotate(33.33 351.98 115.31)"/><rect x="355.23" y="116.87" width="4.3" height="4.3" fill="#000" transform="rotate(35.56 357.38 119.02)"/><rect x="360.48" y="120.80" width="4.3" height="4.3" fill="#000" transform="rotate(37.78 362.63 122.95)"/><rect x="365.58" y="124.92" width="4.3" height="4.3" fill="#000" transform="rotate(40.00 367.73 127.07)"/><rect x="370.51" y="129.24" width="4.3" height="4.3" fill="#000" transform="rotate(42.22 372.66 131.39)"/><rect x="375.28" y="133.75" width="4.3" height="4.3" fill="#000" transform="rotate(44.44 377.43 135.90)"/><rect x="379.86" y="138.43" width="4.3" height="4.3" fill="#000" transform="rotate(46.67 382.01 140.58)"/><path d="M386.41 143.20L388.66 147.47L384.16 147.47Z" fill="#000" transform="rotate(-41.11 386.41 145.45)"/><rect x="388.47" y="148.33" width="4.3" height="4.3" fill="#000" transform="rotate(51.11 390.62 150.48)"/><rect x="392.48" y="153.52" width="4.3" height="4.3" fill="#000" transform="rotate(53.33 394.63 155.67)"/><rect x="396.29" y="158.86" width="4.3" height="4.3" fill="#000" transform="rotate(55.56 398.44 161.01)"/><path d="M402.04 164.25L404.29 168.53L399.79 168.53Z" fill="#000" transform="rotate(-32.22 402.04 166.50)"/><rect x="403.27" y="169.97" width="4.3" height="4.3" fill="#000" transform="rotate(60.00 405.42 172.12)"/><rect x="406.43" y="175.73" width="4.3" height="4.3" fill="#000" transform="rotate(62.22 408.58 177.88)"/><rect x="409.37" y="181.59" width="4.3" height="4.3" fill="#000" transform="rotate(64.44 411.52 183.74)"/><rect x="412.08" y="187.57" width="4.3" height="4.3" fill="#000" transform="rotate(66.67 414.23 189.72)"/><rect x="414.56" y="193.65" width="4.3" height="4.3" fill="#000" transform="rotate(68.89 416.71 195.80)"/><rect x="416.80" y="199.83" width="4.3" height="4.3" fill="#000" transform="rotate(71.11 418.95 201.98)"/><rect x="418.80" y="206.08" width="4.3" height="4.3" fill="#000" transform="rotate(73.33 420.95 208.23)"/><rect x="420.55" y="212.41" width="4.3" height="4.3" fill="#000" transform="rotate(75.56 422.70 214.56)"/><rect x="422.06" y="218.80" width="4.3" height="4.3" fill="#000" transform="rotate(77.78 424.21 220.95)"/><rect x="423.33" y="225.24" width="4.3" height="4.3" fill="#000" transform="rotate(80.00 425.48 227.39)"/><path d="M426.49 231.63L428.74 235.91L424.24 235.91Z" fill="#000" transform="rotate(-7.78 426.49 233.88)"/><rect x="425.40" y="238.56" width="3.6999999999999997" height="3.6999999999999997" fill="#fff" stroke="#222" stroke-width="0.5" transform="rotate(84.44 427.25 240.41)"/><rect x="425.61" y="244.80" width="4.3" height="4.3" fill="#000" transform="rotate(86.67 427.76 246.95)"/><rect x="425.86" y="251.37" width="4.3" height="4.3" fill="#000" transform="rotate(88.89 428.01 253.52)"/><rect x="425.86" y="257.93" width="4.3" height="4.3" fill="#000" transform="rotate(91.11 428.01 260.08)"/><rect x="425.61" y="264.50" width="4.3" height="4.3" fill="#000" transform="rotate(93.33 427.76 266.65)"/><rect x="425.10" y="271.04" width="4.3" height="4.3" fill="#000" transform="rotate(95.56 427.25 273.19)"/><rect x="424.34" y="277.57" width="4.3" height="4.3" fill="#000" transform="rotate(97.78 426.49 279.72)"/><rect x="423.33" y="284.06" width="4.3" height="4.3" fill="#000" transform="rotate(100.00 425.48 286.21)"/><rect x="422.06" y="290.50" width="4.3" height="4.3" fill="#000" transform="rotate(102.22 424.21 292.65)"/><rect x="420.55" y="296.89" width="4.3" height="4.3" fill="#000" transform="rotate(104.44 422.70 299.04)"/><rect x="418.80" y="303.22" width="4.3" height="4.3" fill="#000" transform="rotate(106.67 420.95 305.37)"/><rect x="416.80" y="309.47" width="4.3" height="4.3" fill="#000" transform="rotate(108.89 418.95 311.62)"/><rect x="414.56" y="315.65" width="4.3" height="4.3" fill="#000" transform="rotate(111.11 416.71 317.80)"/><rect x="412.08" y="321.73" width="4.3" height="4.3" fill="#000" transform="rotate(113.33 414.23 323.88)"/><rect x="409.37" y="327.71" width="4.3" height="4.3" fill="#000" transform="rotate(115.56 411.52 329.86)"/><rect x="406.43" y="333.57" width="4.3" height="4.3" fill="#000" transform="rotate(117.78 408.58 335.72)"/><rect x="403.27" y="339.32" width="4.3" height="4.3" fill="#000" transform="rotate(120.00 405.42 341.47)"/><rect x="399.89" y="344.95" width="4.3" height="4.3" fill="#000" transform="rotate(122.22 402.04 347.10)"/><rect x="396.29" y="350.44" width="4.3" height="4.3" fill="#000" transform="rotate(124.44 398.44 352.59)"/><rect x="392.48" y="355.78" width="4.3" height="4.3" fill="#000" transform="rotate(126.67 394.63 357.93)"/><rect x="388.47" y="360.97" width="4.3" height="4.3" fill="#000" transform="rotate(128.89 390.62 363.12)"/><rect x="384.26" y="366.00" width="4.3" height="4.3" fill="#000" transform="rotate(131.11 386.41 368.15)"/><rect x="379.86" y="370.87" width="4.3" height="4.3" fill="#000" transform="rotate(133.33 382.01 373.02)"/><rect x="375.28" y="375.55" width="4.3" height="4.3" fill="#000" transform="rotate(135.56 377.43 377.70)"/><rect x="370.51" y="380.06" width="4.3" height="4.3" fill="#000" transform="rotate(137.78 372.66 382.21)"/><rect x="365.58" y="384.38" width="4.3" height="4.3" fill="#000" transform="rotate(140.00 367.73 386.53)"/><rect x="360.48" y="388.50" width="4.3" height="4.3" fill="#000" transform="rotate(142.22 362.63 390.65)"/><rect x="355.23" y="392.43" width="4.3" height="4.3" fill="#000" transform="rotate(144.44 357.38 394.58)"/><path d="M351.98 396.04L354.23 400.31L349.73 400.31Z" fill="#000" transform="rotate(56.67 351.98 398.29)"/><rect x="344.29" y="399.64" width="4.3" height="4.3" fill="#000" transform="rotate(148.89 346.44 401.79)"/><rect x="338.62" y="402.93" width="4.3" height="4.3" fill="#000" transform="rotate(151.11 340.77 405.08)"/><rect x="332.83" y="405.99" width="4.3" height="4.3" fill="#000" transform="rotate(153.33 334.98 408.14)"/><rect x="326.92" y="408.82" width="4.3" height="4.3" fill="#000" transform="rotate(155.56 329.07 410.97)"/><rect x="320.91" y="411.42" width="4.3" height="4.3" fill="#000" transform="rotate(157.78 323.06 413.57)"/><rect x="314.80" y="413.79" width="4.3" height="4.3" fill="#000" transform="rotate(160.00 316.95 415.94)"/><rect x="308.60" y="415.91" width="4.3" height="4.3" fill="#000" transform="rotate(162.22 310.75 418.06)"/><rect x="302.33" y="417.80" width="4.3" height="4.3" fill="#000" transform="rotate(164.44 304.48 419.95)"/><rect x="295.99" y="419.44" width="4.3" height="4.3" fill="#000" transform="rotate(166.67 298.14 421.59)"/><rect x="289.59" y="420.83" width="4.3" height="4.3" fill="#000" transform="rotate(168.89 291.74 422.98)"/><rect x="283.14" y="421.97" width="4.3" height="4.3" fill="#000" transform="rotate(171.11 285.29 424.12)"/><rect x="276.65" y="422.85" width="4.3" height="4.3" fill="#000" transform="rotate(173.33 278.80 425.00)"/><rect x="270.13" y="423.49" width="4.3" height="4.3" fill="#000" transform="rotate(175.56 272.28 425.64)"/><rect x="263.60" y="423.87" width="4.3" height="4.3" fill="#000" transform="rotate(177.78 265.75 426.02)"/><rect x="257.05" y="424.00" width="4.3" height="4.3" fill="#000" transform="rotate(180.00 259.20 426.15)"/><rect x="250.50" y="423.87" width="4.3" height="4.3" fill="#000" transform="rotate(182.22 252.65 426.02)"/><rect x="243.97" y="423.49" width="4.3" height="4.3" fill="#000" transform="rotate(184.44 246.12 425.64)"/><path d="M239.60 422.85L241.75 425.00L239.60 427.15L237.45 425.00Z" fill="#fff" stroke="#111" stroke-width="0.55" transform="rotate(186.67 239.60 425.00)"/><path d="M233.11 421.97L235.26 424.12L233.11 426.27L230.96 424.12Z" fill="#fff" stroke="#111" stroke-width="0.55" transform="rotate(188.89 233.11 424.12)"/><path d="M226.66 420.83L228.81 422.98L226.66 425.13L224.51 422.98Z" fill="#fff" stroke="#111" stroke-width="0.55" transform="rotate(191.11 226.66 422.98)"/><path d="M220.26 419.44L222.41 421.59L220.26 423.74L218.11 421.59Z" fill="#fff" stroke="#111" stroke-width="0.55" transform="rotate(193.33 220.26 421.59)"/><path d="M213.92 417.80L216.07 419.95L213.92 422.10L211.77 419.95Z" fill="#fff" stroke="#111" stroke-width="0.55" transform="rotate(195.56 213.92 419.95)"/><path d="M207.65 415.91L209.80 418.06L207.65 420.21L205.50 418.06Z" fill="#fff" stroke="#111" stroke-width="0.55" transform="rotate(197.78 207.65 418.06)"/><circle cx="201.45" cy="415.94" r="2.55" fill="#000"/><circle cx="195.34" cy="413.57" r="2.55" fill="#000"/><circle cx="189.33" cy="410.97" r="2.55" fill="#000"/><rect x="181.27" y="405.99" width="4.3" height="4.3" fill="#000" transform="rotate(206.67 183.42 408.14)"/><rect x="175.48" y="402.93" width="4.3" height="4.3" fill="#000" transform="rotate(208.89 177.63 405.08)"/><rect x="169.81" y="399.64" width="4.3" height="4.3" fill="#000" transform="rotate(211.11 171.96 401.79)"/><path d="M166.42 396.04L168.67 400.31L164.17 400.31Z" fill="#000" transform="rotate(123.33 166.42 398.29)"/><rect x="158.87" y="392.43" width="4.3" height="4.3" fill="#000" transform="rotate(215.56 161.02 394.58)"/><path d="M155.77 388.40L158.02 392.68L153.52 392.68Z" fill="#000" transform="rotate(127.78 155.77 390.65)"/><path d="M150.67 384.28L152.92 388.55L148.42 388.55Z" fill="#000" transform="rotate(130.00 150.67 386.53)"/><path d="M145.74 379.96L147.99 384.24L143.49 384.24Z" fill="#000" transform="rotate(132.22 145.74 382.21)"/><rect x="138.82" y="375.55" width="4.3" height="4.3" fill="#000" transform="rotate(224.44 140.97 377.70)"/><rect x="134.24" y="370.87" width="4.3" height="4.3" fill="#000" transform="rotate(226.67 136.39 373.02)"/><rect x="129.84" y="366.00" width="4.3" height="4.3" fill="#000" transform="rotate(228.89 131.99 368.15)"/><rect x="125.63" y="360.97" width="4.3" height="4.3" fill="#000" transform="rotate(231.11 127.78 363.12)"/><rect x="121.62" y="355.78" width="4.3" height="4.3" fill="#000" transform="rotate(233.33 123.77 357.93)"/><rect x="117.81" y="350.44" width="4.3" height="4.3" fill="#000" transform="rotate(235.56 119.96 352.59)"/><rect x="114.21" y="344.95" width="4.3" height="4.3" fill="#000" transform="rotate(237.78 116.36 347.10)"/><rect x="110.83" y="339.33" width="4.3" height="4.3" fill="#000" transform="rotate(240.00 112.98 341.48)"/><rect x="107.67" y="333.57" width="4.3" height="4.3" fill="#000" transform="rotate(242.22 109.82 335.72)"/><rect x="104.73" y="327.71" width="4.3" height="4.3" fill="#000" transform="rotate(244.44 106.88 329.86)"/><rect x="102.02" y="321.73" width="4.3" height="4.3" fill="#000" transform="rotate(246.67 104.17 323.88)"/><rect x="99.54" y="315.65" width="4.3" height="4.3" fill="#000" transform="rotate(248.89 101.69 317.80)"/><rect x="97.30" y="309.47" width="4.3" height="4.3" fill="#000" transform="rotate(251.11 99.45 311.62)"/><rect x="95.30" y="303.22" width="4.3" height="4.3" fill="#000" transform="rotate(253.33 97.45 305.37)"/><rect x="93.55" y="296.89" width="4.3" height="4.3" fill="#000" transform="rotate(255.56 95.70 299.04)"/><rect x="92.04" y="290.50" width="4.3" height="4.3" fill="#000" transform="rotate(257.78 94.19 292.65)"/><path d="M92.92 283.91L95.22 286.21L92.92 288.51L90.62 286.21Z" fill="#000" transform="rotate(260.00 92.92 286.21)"/><path d="M91.91 277.42L94.21 279.72L91.91 282.02L89.61 279.72Z" fill="#000" transform="rotate(262.22 91.91 279.72)"/><path d="M91.15 270.89L93.45 273.19L91.15 275.49L88.85 273.19Z" fill="#000" transform="rotate(264.44 91.15 273.19)"/><rect x="88.49" y="264.50" width="4.3" height="4.3" fill="#000" transform="rotate(266.67 90.64 266.65)"/><rect x="88.24" y="257.93" width="4.3" height="4.3" fill="#000" transform="rotate(268.89 90.39 260.08)"/><rect x="88.24" y="251.37" width="4.3" height="4.3" fill="#000" transform="rotate(271.11 90.39 253.52)"/><rect x="88.49" y="244.80" width="4.3" height="4.3" fill="#000" transform="rotate(273.33 90.64 246.95)"/><rect x="89.00" y="238.26" width="4.3" height="4.3" fill="#000" transform="rotate(275.56 91.15 240.41)"/><rect x="89.76" y="231.73" width="4.3" height="4.3" fill="#000" transform="rotate(277.78 91.91 233.88)"/><rect x="90.77" y="225.24" width="4.3" height="4.3" fill="#000" transform="rotate(280.00 92.92 227.39)"/><rect x="92.04" y="218.80" width="4.3" height="4.3" fill="#000" transform="rotate(282.22 94.19 220.95)"/><rect x="93.55" y="212.41" width="4.3" height="4.3" fill="#000" transform="rotate(284.44 95.70 214.56)"/><rect x="95.30" y="206.08" width="4.3" height="4.3" fill="#000" transform="rotate(286.67 97.45 208.23)"/><rect x="97.30" y="199.83" width="4.3" height="4.3" fill="#000" transform="rotate(288.89 99.45 201.98)"/><rect x="99.54" y="193.65" width="4.3" height="4.3" fill="#000" transform="rotate(291.11 101.69 195.80)"/><rect x="102.02" y="187.57" width="4.3" height="4.3" fill="#000" transform="rotate(293.33 104.17 189.72)"/><rect x="104.73" y="181.59" width="4.3" height="4.3" fill="#000" transform="rotate(295.56 106.88 183.74)"/><rect x="107.67" y="175.73" width="4.3" height="4.3" fill="#000" transform="rotate(297.78 109.82 177.88)"/><rect x="110.83" y="169.97" width="4.3" height="4.3" fill="#000" transform="rotate(300.00 112.98 172.12)"/><path d="M116.36 164.25L118.61 168.53L114.11 168.53Z" fill="#000" transform="rotate(212.22 116.36 166.50)"/><rect x="117.81" y="158.86" width="4.3" height="4.3" fill="#000" transform="rotate(304.44 119.96 161.01)"/><rect x="121.62" y="153.52" width="4.3" height="4.3" fill="#000" transform="rotate(306.67 123.77 155.67)"/><rect x="125.63" y="148.33" width="4.3" height="4.3" fill="#000" transform="rotate(308.89 127.78 150.48)"/><rect x="129.84" y="143.30" width="4.3" height="4.3" fill="#000" transform="rotate(311.11 131.99 145.45)"/><rect x="134.24" y="138.43" width="4.3" height="4.3" fill="#000" transform="rotate(313.33 136.39 140.58)"/><rect x="138.82" y="133.75" width="4.3" height="4.3" fill="#000" transform="rotate(315.56 140.97 135.90)"/><rect x="143.59" y="129.24" width="4.3" height="4.3" fill="#000" transform="rotate(317.78 145.74 131.39)"/><rect x="148.52" y="124.92" width="4.3" height="4.3" fill="#000" transform="rotate(320.00 150.67 127.07)"/><rect x="153.62" y="120.80" width="4.3" height="4.3" fill="#000" transform="rotate(322.22 155.77 122.95)"/><rect x="158.87" y="116.87" width="4.3" height="4.3" fill="#000" transform="rotate(324.44 161.02 119.02)"/><rect x="164.27" y="113.16" width="4.3" height="4.3" fill="#000" transform="rotate(326.67 166.42 115.31)"/><rect x="169.81" y="109.66" width="4.3" height="4.3" fill="#000" transform="rotate(328.89 171.96 111.81)"/><circle cx="177.63" cy="108.52" r="2.55" fill="#000"/><rect x="181.27" y="103.31" width="4.3" height="4.3" fill="#000" transform="rotate(333.33 183.42 105.46)"/><rect x="187.18" y="100.48" width="4.3" height="4.3" fill="#000" transform="rotate(335.56 189.33 102.63)"/><rect x="193.19" y="97.88" width="4.3" height="4.3" fill="#000" transform="rotate(337.78 195.34 100.03)"/><rect x="199.30" y="95.51" width="4.3" height="4.3" fill="#000" transform="rotate(340.00 201.45 97.66)"/><circle cx="208.43" cy="95.29" r="2.1" fill="#fff" stroke="#222" stroke-width="0.55"/></g>
<g font-family="'Liberation Sans',Arial,sans-serif" font-size="5.4" fill="#1a1a1a" stroke="#1a1a1a" stroke-width="0.14">
<text x="259.20" y="83.00" transform="rotate(-90.00 259.20 83.00)" text-anchor="start" dy="0.7">GmPIN1b</text>
<text x="265.92" y="83.13" transform="rotate(-87.78 265.92 83.13)" text-anchor="start" dy="0.7">GmPIN1c</text>
<text x="272.63" y="83.52" transform="rotate(-85.56 272.63 83.52)" text-anchor="start" dy="0.7">gr Gorai.008G191800</text>
<text x="279.32" y="84.18" transform="rotate(-83.33 279.32 84.18)" text-anchor="start" dy="0.7">gr Gorai.006G290000</text>
<text x="285.97" y="85.09" transform="rotate(-81.11 285.97 85.09)" text-anchor="start" dy="0.7">GmPIN1a</text>
<text x="292.59" y="86.26" transform="rotate(-78.89 292.59 86.26)" text-anchor="start" dy="0.7">gr Gorai.007G003600</text>
<text x="299.16" y="87.68" transform="rotate(-76.67 299.16 87.68)" text-anchor="start" dy="0.7">PtrPIN7</text>
<text x="305.67" y="89.37" transform="rotate(-74.44 305.67 89.37)" text-anchor="start" dy="0.7">PtrPIN1</text>
<text x="312.11" y="91.30" transform="rotate(-72.22 312.11 91.30)" text-anchor="start" dy="0.7">StPIN1</text>
<text x="318.46" y="93.48" transform="rotate(-70.00 318.46 93.48)" text-anchor="start" dy="0.7">bo Bo6g087700</text>
<text x="324.73" y="95.91" transform="rotate(-67.78 324.73 95.91)" text-anchor="start" dy="0.7">bo Bo6g116850</text>
<text x="330.90" y="98.58" transform="rotate(-65.56 330.90 98.58)" text-anchor="start" dy="0.7">AtPIN1</text>
<text x="336.97" y="101.49" transform="rotate(-63.33 336.97 101.49)" text-anchor="start" dy="0.7">bo Bo5g006660</text>
<text x="342.91" y="104.63" transform="rotate(-61.11 342.91 104.63)" text-anchor="start" dy="0.7">pe PEQU 10294</text>
<text x="348.73" y="108.00" transform="rotate(-58.89 348.73 108.00)" text-anchor="start" dy="0.7">pe PEQU 22421</text>
<text x="354.42" y="111.59" transform="rotate(-56.67 354.42 111.59)" text-anchor="start" dy="0.7">OsPIN1a</text>
<text x="359.96" y="115.40" transform="rotate(-54.44 359.96 115.40)" text-anchor="start" dy="0.7">ZmPIN1a</text>
<text x="365.35" y="119.43" transform="rotate(-52.22 365.35 119.43)" text-anchor="start" dy="0.7">bd Bradi1g45020</text>
<text x="370.58" y="123.66" transform="rotate(-50.00 370.58 123.66)" text-anchor="start" dy="0.7">bd Bradi3g59520</text>
<text x="375.64" y="128.09" transform="rotate(-47.78 375.64 128.09)" text-anchor="start" dy="0.7">ZmPIN1c</text>
<text x="380.53" y="132.72" transform="rotate(-45.56 380.53 132.72)" text-anchor="start" dy="0.7">OsPIN1b</text>
<text x="385.24" y="137.53" transform="rotate(-43.33 385.24 137.53)" text-anchor="start" dy="0.7">ZmPIN1b</text>
<text x="389.75" y="142.52" transform="rotate(-41.11 389.75 142.52)" text-anchor="start" dy="0.7">ar scaffold00010.98</text>
<text x="394.07" y="147.69" transform="rotate(-38.89 394.07 147.69)" text-anchor="start" dy="0.7">OsPIN1c</text>
<text x="398.19" y="153.01" transform="rotate(-36.67 398.19 153.01)" text-anchor="start" dy="0.7">OsPIN1d</text>
<text x="402.10" y="158.50" transform="rotate(-34.44 402.10 158.50)" text-anchor="start" dy="0.7">ZmPIN1d</text>
<text x="405.79" y="164.13" transform="rotate(-32.22 405.79 164.13)" text-anchor="start" dy="0.7">ar scaffold00101.123</text>
<text x="409.26" y="169.90" transform="rotate(-30.00 409.26 169.90)" text-anchor="start" dy="0.7">pe PEQU 20890</text>
<text x="412.51" y="175.80" transform="rotate(-27.78 412.51 175.80)" text-anchor="start" dy="0.7">ug Scf00218.g12926</text>
<text x="415.53" y="181.83" transform="rotate(-25.56 415.53 181.83)" text-anchor="start" dy="0.7">ug Scf00231.g13302</text>
<text x="418.31" y="187.96" transform="rotate(-23.33 418.31 187.96)" text-anchor="start" dy="0.7">StPIN9</text>
<text x="420.85" y="194.20" transform="rotate(-21.11 420.85 194.20)" text-anchor="start" dy="0.7">StPIN7</text>
<text x="423.15" y="200.54" transform="rotate(-18.89 423.15 200.54)" text-anchor="start" dy="0.7">PtrPIN8</text>
<text x="425.20" y="206.95" transform="rotate(-16.67 425.20 206.95)" text-anchor="start" dy="0.7">PtrPIN2</text>
<text x="427.00" y="213.45" transform="rotate(-14.44 427.00 213.45)" text-anchor="start" dy="0.7">gr Gorai.007G352200</text>
<text x="428.55" y="220.01" transform="rotate(-12.22 428.55 220.01)" text-anchor="start" dy="0.7">GmPIN1d</text>
<text x="429.85" y="226.62" transform="rotate(-10.00 429.85 226.62)" text-anchor="start" dy="0.7">GmPIN1e</text>
<text x="430.88" y="233.28" transform="rotate(-7.78 430.88 233.28)" text-anchor="start" dy="0.7">ar scaffold00024.330</text>
<text x="431.66" y="239.97" transform="rotate(-5.56 431.66 239.97)" text-anchor="start" dy="0.7">PaPIN1</text>
<text x="432.19" y="246.69" transform="rotate(-3.33 432.19 246.69)" text-anchor="start" dy="0.7">bo Bo6g112590</text>
<text x="432.45" y="253.43" transform="rotate(-1.11 432.45 253.43)" text-anchor="start" dy="0.7">AtPIN3</text>
<text x="432.45" y="260.17" transform="rotate(1.11 432.45 260.17)" text-anchor="start" dy="0.7">bo Bo6g094450</text>
<text x="432.19" y="266.91" transform="rotate(3.33 432.19 266.91)" text-anchor="start" dy="0.7">bo Bo2g070690</text>
<text x="431.66" y="273.63" transform="rotate(5.56 431.66 273.63)" text-anchor="start" dy="0.7">bo Bo8g071640</text>
<text x="430.88" y="280.32" transform="rotate(7.78 430.88 280.32)" text-anchor="start" dy="0.7">AtPIN7</text>
<text x="429.85" y="286.98" transform="rotate(10.00 429.85 286.98)" text-anchor="start" dy="0.7">bo Bo7g056420</text>
<text x="428.55" y="293.59" transform="rotate(12.22 428.55 293.59)" text-anchor="start" dy="0.7">AtPIN4</text>
<text x="427.00" y="300.15" transform="rotate(14.44 427.00 300.15)" text-anchor="start" dy="0.7">bo Bo2g134160</text>
<text x="425.20" y="306.65" transform="rotate(16.67 425.20 306.65)" text-anchor="start" dy="0.7">ug Scf00025.g3327</text>
<text x="423.15" y="313.06" transform="rotate(18.89 423.15 313.06)" text-anchor="start" dy="0.7">ug Scf01300.g24439</text>
<text x="420.85" y="319.40" transform="rotate(21.11 420.85 319.40)" text-anchor="start" dy="0.7">ug Scf00293.g14833</text>
<text x="418.31" y="325.64" transform="rotate(23.33 418.31 325.64)" text-anchor="start" dy="0.7">GmPIN3c</text>
<text x="415.53" y="331.77" transform="rotate(25.56 415.53 331.77)" text-anchor="start" dy="0.7">GmPIN3d</text>
<text x="412.51" y="337.80" transform="rotate(27.78 412.51 337.80)" text-anchor="start" dy="0.7">GmPIN3a</text>
<text x="409.26" y="343.70" transform="rotate(30.00 409.26 343.70)" text-anchor="start" dy="0.7">GmPIN3b</text>
<text x="405.79" y="349.47" transform="rotate(32.22 405.79 349.47)" text-anchor="start" dy="0.7">StPIN4</text>
<text x="402.10" y="355.10" transform="rotate(34.44 402.10 355.10)" text-anchor="start" dy="0.7">StPIN3</text>
<text x="398.19" y="360.59" transform="rotate(36.67 398.19 360.59)" text-anchor="start" dy="0.7">gr Gorai.002G179000</text>
<text x="394.07" y="365.91" transform="rotate(38.89 394.07 365.91)" text-anchor="start" dy="0.7">PtrPIN6</text>
<text x="389.75" y="371.08" transform="rotate(41.11 389.75 371.08)" text-anchor="start" dy="0.7">PtrPIN3</text>
<text x="385.24" y="376.07" transform="rotate(43.33 385.24 376.07)" text-anchor="start" dy="0.7">pe PEQU 34356</text>
<text x="380.53" y="380.88" transform="rotate(45.56 380.53 380.88)" text-anchor="start" dy="0.7">bd Bradi2g44987</text>
<text x="375.64" y="385.51" transform="rotate(47.78 375.64 385.51)" text-anchor="start" dy="0.7">OsPIN10a</text>
<text x="370.58" y="389.94" transform="rotate(50.00 370.58 389.94)" text-anchor="start" dy="0.7">ZmPIN10a</text>
<text x="365.35" y="394.17" transform="rotate(52.22 365.35 394.17)" text-anchor="start" dy="0.7">bd Bradi1g31530</text>
<text x="359.96" y="398.20" transform="rotate(54.44 359.96 398.20)" text-anchor="start" dy="0.7">OsPIN2</text>
<text x="354.42" y="402.01" transform="rotate(56.67 354.42 402.01)" text-anchor="start" dy="0.7">ar scaffold00019.408</text>
<text x="348.73" y="405.60" transform="rotate(58.89 348.73 405.60)" text-anchor="start" dy="0.7">AtPIN2</text>
<text x="342.91" y="408.97" transform="rotate(61.11 342.91 408.97)" text-anchor="start" dy="0.7">bo Bo2g022760</text>
<text x="336.97" y="412.11" transform="rotate(63.33 336.97 412.11)" text-anchor="start" dy="0.7">bo Bo9g130710</text>
<text x="330.90" y="415.02" transform="rotate(65.56 330.90 415.02)" text-anchor="start" dy="0.7">StPIN2</text>
<text x="324.73" y="417.69" transform="rotate(67.78 324.73 417.69)" text-anchor="start" dy="0.7">PtrPIN9</text>
<text x="318.46" y="420.12" transform="rotate(70.00 318.46 420.12)" text-anchor="start" dy="0.7">gr Gorai.009G001600</text>
<text x="312.11" y="422.30" transform="rotate(72.22 312.11 422.30)" text-anchor="start" dy="0.7">GmPIN2a</text>
<text x="305.67" y="424.23" transform="rotate(74.44 305.67 424.23)" text-anchor="start" dy="0.7">GmPIN2b</text>
<text x="299.16" y="425.92" transform="rotate(76.67 299.16 425.92)" text-anchor="start" dy="0.7">sg Scf00021.g05182</text>
<text x="292.59" y="427.34" transform="rotate(78.89 292.59 427.34)" text-anchor="start" dy="0.7">OsPIN10b</text>
<text x="285.97" y="428.51" transform="rotate(81.11 285.97 428.51)" text-anchor="start" dy="0.7">ZmPIN10b</text>
<text x="279.32" y="429.42" transform="rotate(83.33 279.32 429.42)" text-anchor="start" dy="0.7">bd Bradi3g15610</text>
<text x="272.63" y="430.08" transform="rotate(85.56 272.63 430.08)" text-anchor="start" dy="0.7">PtrPIN10</text>
<text x="265.92" y="430.47" transform="rotate(87.78 265.92 430.47)" text-anchor="start" dy="0.7">GmPIN9a</text>
<text x="259.20" y="430.60" transform="rotate(90.00 259.20 430.60)" text-anchor="start" dy="0.7">GmPIN9b</text>
<text x="252.48" y="430.47" transform="rotate(92.22 252.48 430.47)" text-anchor="start" dy="0.7">GmPIN9c</text>
<text x="245.77" y="430.08" transform="rotate(94.44 245.77 430.08)" text-anchor="start" dy="0.7">GmPIN9d</text>
<text x="239.08" y="429.42" transform="rotate(96.67 239.08 429.42)" text-anchor="start" dy="0.7">Sm231064</text>
<text x="232.43" y="428.51" transform="rotate(98.89 232.43 428.51)" text-anchor="start" dy="0.7">Sm268490</text>
<text x="225.81" y="427.34" transform="rotate(101.11 225.81 427.34)" text-anchor="start" dy="0.7">Sm119024</text>
<text x="219.24" y="425.92" transform="rotate(103.33 219.24 425.92)" text-anchor="start" dy="0.7">Sm102666</text>
<text x="212.73" y="424.23" transform="rotate(105.56 212.73 424.23)" text-anchor="start" dy="0.7">Sm234325</text>
<text x="206.29" y="422.30" transform="rotate(107.78 206.29 422.30)" text-anchor="start" dy="0.7">Sm99301</text>
<text x="199.94" y="420.12" transform="rotate(110.00 199.94 420.12)" text-anchor="start" dy="0.7">PpPINC</text>
<text x="193.67" y="417.69" transform="rotate(112.22 193.67 417.69)" text-anchor="start" dy="0.7">PpPINA</text>
<text x="187.50" y="415.02" transform="rotate(114.44 187.50 415.02)" text-anchor="start" dy="0.7">PpPINB</text>
<text x="181.43" y="412.11" transform="rotate(296.67 181.43 412.11)" text-anchor="end" dy="0.7">PtrPIN15</text>
<text x="175.49" y="408.97" transform="rotate(298.89 175.49 408.97)" text-anchor="end" dy="0.7">PtrPIN16</text>
<text x="169.67" y="405.60" transform="rotate(301.11 169.67 405.60)" text-anchor="end" dy="0.7">gr Gorai.011G156600</text>
<text x="163.98" y="402.01" transform="rotate(303.33 163.98 402.01)" text-anchor="end" dy="0.7">ar scaffold00013.203</text>
<text x="158.44" y="398.20" transform="rotate(305.56 158.44 398.20)" text-anchor="end" dy="0.7">pe PEQU 12417</text>
<text x="153.05" y="394.17" transform="rotate(307.78 153.05 394.17)" text-anchor="end" dy="0.7">ar scaffold00036.35</text>
<text x="147.82" y="389.94" transform="rotate(310.00 147.82 389.94)" text-anchor="end" dy="0.7">ar scaffold00036.36</text>
<text x="142.76" y="385.51" transform="rotate(312.22 142.76 385.51)" text-anchor="end" dy="0.7">ar scaffold00036.32</text>
<text x="137.87" y="380.88" transform="rotate(314.44 137.87 380.88)" text-anchor="end" dy="0.7">bd Bradi2g48170</text>
<text x="133.16" y="376.07" transform="rotate(316.67 133.16 376.07)" text-anchor="end" dy="0.7">ZmPIN8</text>
<text x="128.65" y="371.08" transform="rotate(318.89 128.65 371.08)" text-anchor="end" dy="0.7">OsPIN8</text>
<text x="124.33" y="365.91" transform="rotate(321.11 124.33 365.91)" text-anchor="end" dy="0.7">pe PEQU 41270</text>
<text x="120.21" y="360.59" transform="rotate(323.33 120.21 360.59)" text-anchor="end" dy="0.7">gr Gorai.011G096500</text>
<text x="116.30" y="355.10" transform="rotate(325.56 116.30 355.10)" text-anchor="end" dy="0.7">bo Bo2g012370</text>
<text x="112.61" y="349.47" transform="rotate(327.78 112.61 349.47)" text-anchor="end" dy="0.7">bo Bo9g165420</text>
<text x="109.14" y="343.70" transform="rotate(330.00 109.14 343.70)" text-anchor="end" dy="0.7">AtPIN8</text>
<text x="105.89" y="337.80" transform="rotate(332.22 105.89 337.80)" text-anchor="end" dy="0.7">StPIN8</text>
<text x="102.87" y="331.77" transform="rotate(334.44 102.87 331.77)" text-anchor="end" dy="0.7">PtrPIN13</text>
<text x="100.09" y="325.64" transform="rotate(336.67 100.09 325.64)" text-anchor="end" dy="0.7">PtrPIN14</text>
<text x="97.55" y="319.40" transform="rotate(338.89 97.55 319.40)" text-anchor="end" dy="0.7">gr Gorai.012G056200</text>
<text x="95.25" y="313.06" transform="rotate(341.11 95.25 313.06)" text-anchor="end" dy="0.7">GmPIN8a</text>
<text x="93.20" y="306.65" transform="rotate(343.33 93.20 306.65)" text-anchor="end" dy="0.7">GmPIN8b</text>
<text x="91.40" y="300.15" transform="rotate(345.56 91.40 300.15)" text-anchor="end" dy="0.7">GmPIN8c</text>
<text x="89.85" y="293.59" transform="rotate(347.78 89.85 293.59)" text-anchor="end" dy="0.7">GmPIN8d</text>
<text x="88.55" y="286.98" transform="rotate(350.00 88.55 286.98)" text-anchor="end" dy="0.7">gi|663442219|gb|AIF28520.1</text>
<text x="87.52" y="280.32" transform="rotate(352.22 87.52 280.32)" text-anchor="end" dy="0.7">gi|663442169|gb|AIF28495.1</text>
<text x="86.74" y="273.63" transform="rotate(354.44 86.74 273.63)" text-anchor="end" dy="0.7">gi|663442241|gb|AIF28531.1</text>
<text x="86.21" y="266.91" transform="rotate(356.67 86.21 266.91)" text-anchor="end" dy="0.7">AtPIN6</text>
<text x="85.95" y="260.17" transform="rotate(358.89 85.95 260.17)" text-anchor="end" dy="0.7">bo Bo6g121080</text>
<text x="85.95" y="253.43" transform="rotate(361.11 85.95 253.43)" text-anchor="end" dy="0.7">GmPIN6b</text>
<text x="86.21" y="246.69" transform="rotate(363.33 86.21 246.69)" text-anchor="end" dy="0.7">GmPIN6a</text>
<text x="86.74" y="239.97" transform="rotate(365.56 86.74 239.97)" text-anchor="end" dy="0.7">StPIN6</text>
<text x="87.52" y="233.28" transform="rotate(367.78 87.52 233.28)" text-anchor="end" dy="0.7">gr Gorai.005G082500</text>
<text x="88.55" y="226.62" transform="rotate(370.00 88.55 226.62)" text-anchor="end" dy="0.7">PtrPIN5</text>
<text x="89.85" y="220.01" transform="rotate(372.22 89.85 220.01)" text-anchor="end" dy="0.7">PtrPIN4</text>
<text x="91.40" y="213.45" transform="rotate(374.44 91.40 213.45)" text-anchor="end" dy="0.7">StPIN10</text>
<text x="93.20" y="206.95" transform="rotate(376.67 93.20 206.95)" text-anchor="end" dy="0.7">StPIN5</text>
<text x="95.25" y="200.54" transform="rotate(378.89 95.25 200.54)" text-anchor="end" dy="0.7">bd Bradi3g41080</text>
<text x="97.55" y="194.20" transform="rotate(381.11 97.55 194.20)" text-anchor="end" dy="0.7">OsPIN5b</text>
<text x="100.09" y="187.96" transform="rotate(383.33 100.09 187.96)" text-anchor="end" dy="0.7">ZmPIN5b</text>
<text x="102.87" y="181.83" transform="rotate(385.56 102.87 181.83)" text-anchor="end" dy="0.7">bd Bradi4g34510</text>
<text x="105.89" y="175.80" transform="rotate(387.78 105.89 175.80)" text-anchor="end" dy="0.7">OsPIN5c</text>
<text x="109.14" y="169.90" transform="rotate(390.00 109.14 169.90)" text-anchor="end" dy="0.7">ZmPIN5c</text>
<text x="112.61" y="164.13" transform="rotate(392.22 112.61 164.13)" text-anchor="end" dy="0.7">ar scaffold00013.199</text>
<text x="116.30" y="158.50" transform="rotate(394.44 116.30 158.50)" text-anchor="end" dy="0.7">ZmPIN5a</text>
<text x="120.21" y="153.01" transform="rotate(396.67 120.21 153.01)" text-anchor="end" dy="0.7">ZmPIN5d</text>
<text x="124.33" y="147.69" transform="rotate(398.89 124.33 147.69)" text-anchor="end" dy="0.7">OsPIN5a</text>
<text x="128.65" y="142.52" transform="rotate(401.11 128.65 142.52)" text-anchor="end" dy="0.7">bd Bradi2g58917</text>
<text x="133.16" y="137.53" transform="rotate(403.33 133.16 137.53)" text-anchor="end" dy="0.7">AtPIN5</text>
<text x="137.87" y="132.72" transform="rotate(405.56 137.87 132.72)" text-anchor="end" dy="0.7">bo Bo3g012090</text>
<text x="142.76" y="128.09" transform="rotate(407.78 142.76 128.09)" text-anchor="end" dy="0.7">bo Bo9g163100</text>
<text x="147.82" y="123.66" transform="rotate(410.00 147.82 123.66)" text-anchor="end" dy="0.7">GmPIN5a</text>
<text x="153.05" y="119.43" transform="rotate(412.22 153.05 119.43)" text-anchor="end" dy="0.7">GmPIN5b</text>
<text x="158.44" y="115.40" transform="rotate(414.44 158.44 115.40)" text-anchor="end" dy="0.7">gr Gorai.013G020000</text>
<text x="163.98" y="111.59" transform="rotate(416.67 163.98 111.59)" text-anchor="end" dy="0.7">PtrPIN11</text>
<text x="169.67" y="108.00" transform="rotate(418.89 169.67 108.00)" text-anchor="end" dy="0.7">PtrPIN12</text>
<text x="175.49" y="104.63" transform="rotate(421.11 175.49 104.63)" text-anchor="end" dy="0.7">PpPIND</text>
<text x="181.43" y="101.49" transform="rotate(423.33 181.43 101.49)" text-anchor="end" dy="0.7">sg Scf00314.g18568</text>
<text x="187.50" y="98.58" transform="rotate(425.56 187.50 98.58)" text-anchor="end" dy="0.7">ZmPIN9</text>
<text x="193.67" y="95.91" transform="rotate(427.78 193.67 95.91)" text-anchor="end" dy="0.7">bd Bradi3g29340</text>
<text x="199.94" y="93.48" transform="rotate(430.00 199.94 93.48)" text-anchor="end" dy="0.7">OsPIN9</text>
<text x="206.29" y="91.30" transform="rotate(432.22 206.29 91.30)" text-anchor="end" dy="0.7">KfPIN</text>
</g>
<g font-family="'Liberation Sans',Arial,sans-serif" font-size="5.55" fill="#2a2a2a" stroke="#2a2a2a" stroke-width="0.1">
<circle cx="502.00" cy="413.60" r="2.1" fill="#fff" stroke="#222" stroke-width="0.55"/>
<text x="508.8" y="413.6" dy="0.35em">Algaes</text>
<circle cx="502.00" cy="425.90" r="2.55" fill="#000"/>
<text x="508.8" y="425.9" dy="0.35em">Moss</text>
<path d="M502.00 436.35L504.15 438.50L502.00 440.65L499.85 438.50Z" fill="#fff" stroke="#111" stroke-width="0.55" transform="rotate(0.00 502.00 438.50)"/>
<text x="508.8" y="438.5" dy="0.35em">Lycophytes</text>
<path d="M502.00 449.70L504.30 452.00L502.00 454.30L499.70 452.00Z" fill="#000" transform="rotate(0.00 502.00 452.00)"/>
<text x="508.8" y="452.0" dy="0.35em">Ferns</text>
<path d="M502.00 461.95L504.25 466.22L499.75 466.22Z" fill="#000" transform="rotate(0.00 502.00 464.20)"/>
<text x="508.8" y="464.2" dy="0.35em">Gymnosperm</text>
<rect x="500.15" y="475.35" width="3.6999999999999997" height="3.6999999999999997" fill="#fff" stroke="#222" stroke-width="0.5" transform="rotate(0.00 502.00 477.20)"/>
<text x="508.8" y="477.2" dy="0.35em">Amborellales</text>
<rect x="499.85" y="487.75" width="4.3" height="4.3" fill="#000" transform="rotate(0.00 502.00 489.90)"/>
<text x="508.8" y="489.9" dy="0.35em">Angiosperm</text>
</g>
</svg>
</body></html>
